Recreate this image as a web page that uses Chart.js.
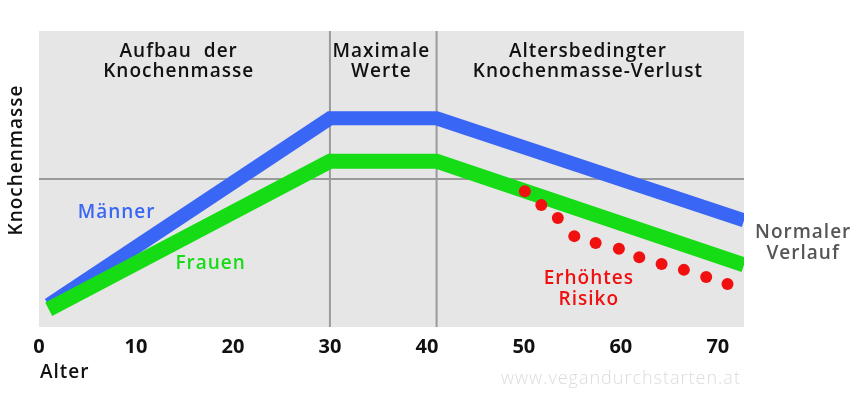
<!DOCTYPE html>
<html>
<head>
<meta charset="utf-8">
<script src="https://cdn.jsdelivr.net/npm/chart.js@4"></script>
<style>
  html, body { margin: 0; padding: 0; background: #ffffff; }
  #wrap { width: 860px; height: 405px; }
</style>
</head>
<body>
<div id="wrap"><canvas id="boneChart" width="860" height="405"></canvas></div>
<script>
// Alter (x) und Knochenmasse (y, 0-100 ohne Einheit)
const maennerAlter = [1, 30, 41, 72.7];
const maennerMasse = [7.5, 70.5, 70.5, 36];
const frauenAlter = [1, 30, 41, 72.7];
const frauenMasse = [6, 56, 56, 21];
const risikoAlter = [50.1, 51.8, 53.5, 55.2, 57.4, 59.8, 61.9, 64.2, 66.5, 68.8, 71.0];
const risikoMasse = [45.9, 41.2, 36.8, 30.7, 28.4, 26.4, 23.6, 21.3, 19.3, 16.9, 14.5];
const xTicks = [0, 10, 20, 30, 40, 50, 60, 70];
const phasenGrenzen = [30, 41];
const phasenTitel = [
    { lines: ['Aufbau  der', 'Knochenmasse'], x: 14.4 },
    { lines: ['Maximale', 'Werte'], x: 35.3 },
    { lines: ['Altersbedingter', 'Knochenmasse-Verlust'], x: 56.6 }
];
const kurvenLabels = [
    { lines: ['Männer'], x: 8.0, y: 38.5, color: '#3a66f5' },
    { lines: ['Frauen'], x: 17.7, y: 21.3, color: '#16dc16' },
    { lines: ['Erhöhtes', 'Risiko'], x: 56.7, y: 16.2, color: '#f01010' },
    { lines: ['Normaler', 'Verlauf'], x: 78.8, y: 31.8, color: '#555555' }
];

const FONT = '"Open Sans", "Noto Sans", sans-serif';

const toPoints = (xs, ys) => xs.map((x, i) => ({ x: x, y: ys[i] }));

// Hintergrund, Phasenlinien und Mittellinie
const backdrop = {
    id: 'backdrop',
    beforeDatasetsDraw(chart) {
        const { ctx, chartArea: a, scales } = chart;
        ctx.save();
        ctx.fillStyle = '#e6e6e6';
        ctx.fillRect(a.left, a.top, a.right - a.left, a.bottom - a.top);
        ctx.strokeStyle = '#9a9a9a';
        ctx.lineWidth = 2;
        phasenGrenzen.forEach((v) => {
            const px = scales.x.getPixelForValue(v);
            ctx.beginPath();
            ctx.moveTo(px, a.top);
            ctx.lineTo(px, a.bottom);
            ctx.stroke();
        });
        const py = scales.y.getPixelForValue(50);
        ctx.beginPath();
        ctx.moveTo(a.left, py);
        ctx.lineTo(a.right, py);
        ctx.stroke();
        ctx.restore();
    }
};

// Texte (Montserrat-Ersatz: etwas Laufweite dazu)
const texts = {
    id: 'texts',
    afterDraw(chart) {
        const { ctx, chartArea: a, scales } = chart;
        ctx.save();
        ctx.textAlign = 'center';
        ctx.textBaseline = 'middle';
        ctx.letterSpacing = '1px';
        ctx.font = '600 19px ' + FONT;
        ctx.fillStyle = '#111111';
        phasenTitel.forEach((t) => {
            const px = scales.x.getPixelForValue(t.x);
            t.lines.forEach((line, i) => ctx.fillText(line, px, a.top + 21 + i * 20));
        });
        kurvenLabels.forEach((t) => {
            ctx.fillStyle = t.color;
            const px = scales.x.getPixelForValue(t.x);
            const py = scales.y.getPixelForValue(t.y);
            t.lines.forEach((line, i) => ctx.fillText(line, px, py + i * 21));
        });

        // Achsentitel
        ctx.fillStyle = '#111111';
        ctx.textAlign = 'left';
        ctx.fillText('Alter', a.left + 1, 373);
        ctx.save();
        ctx.translate(17, 160);
        ctx.rotate(-Math.PI / 2);
        ctx.textAlign = 'center';
        ctx.fillText('Knochenmasse', 0, 0);
        ctx.restore();

        // Wasserzeichen
        ctx.textAlign = 'center';
        ctx.font = '300 18px ' + FONT;
        ctx.fillStyle = '#dcdcdc';
        ctx.fillText('www.vegandurchstarten.at', 621, 379);
        ctx.restore();
    }
};

new Chart(document.getElementById('boneChart'), {
    type: 'scatter',
    data: {
        datasets: [
            {
                label: 'Erhöhtes Risiko',
                data: toPoints(risikoAlter, risikoMasse),
                showLine: false,
                pointRadius: 6,
                pointBackgroundColor: '#f01010',
                pointBorderWidth: 0,
                order: 0
            },
            {
                label: 'Frauen',
                data: toPoints(frauenAlter, frauenMasse),
                showLine: true,
                borderColor: '#16dc16',
                borderWidth: 15,
                borderCapStyle: 'butt',
                borderJoinStyle: 'miter',
                pointRadius: 0,
                order: 1
            },
            {
                label: 'Männer',
                data: toPoints(maennerAlter, maennerMasse),
                showLine: true,
                borderColor: '#3a66f5',
                borderWidth: 14,
                borderCapStyle: 'butt',
                borderJoinStyle: 'miter',
                pointRadius: 0,
                order: 2
            }
        ]
    },
    options: {
        responsive: false,
        animation: false,
        layout: { padding: { left: 39, right: 116, top: 31, bottom: 0 } },
        scales: {
            x: {
                type: 'linear',
                min: 0,
                max: 72.7,
                afterFit: (scale) => { scale.height = 78; },
                afterBuildTicks: (scale) => { scale.ticks = xTicks.map((v) => ({ value: v })); },
                grid: { display: false, drawTicks: false },
                border: { display: false },
                ticks: {
                    padding: 8,
                    color: '#111111',
                    font: { family: FONT, size: 20, weight: '700' }
                }
            },
            y: {
                display: false,
                min: 0,
                max: 100
            }
        },
        plugins: {
            legend: { display: false },
            tooltip: { enabled: false }
        }
    },
    plugins: [backdrop, texts]
});
</script>
</body>
</html>
